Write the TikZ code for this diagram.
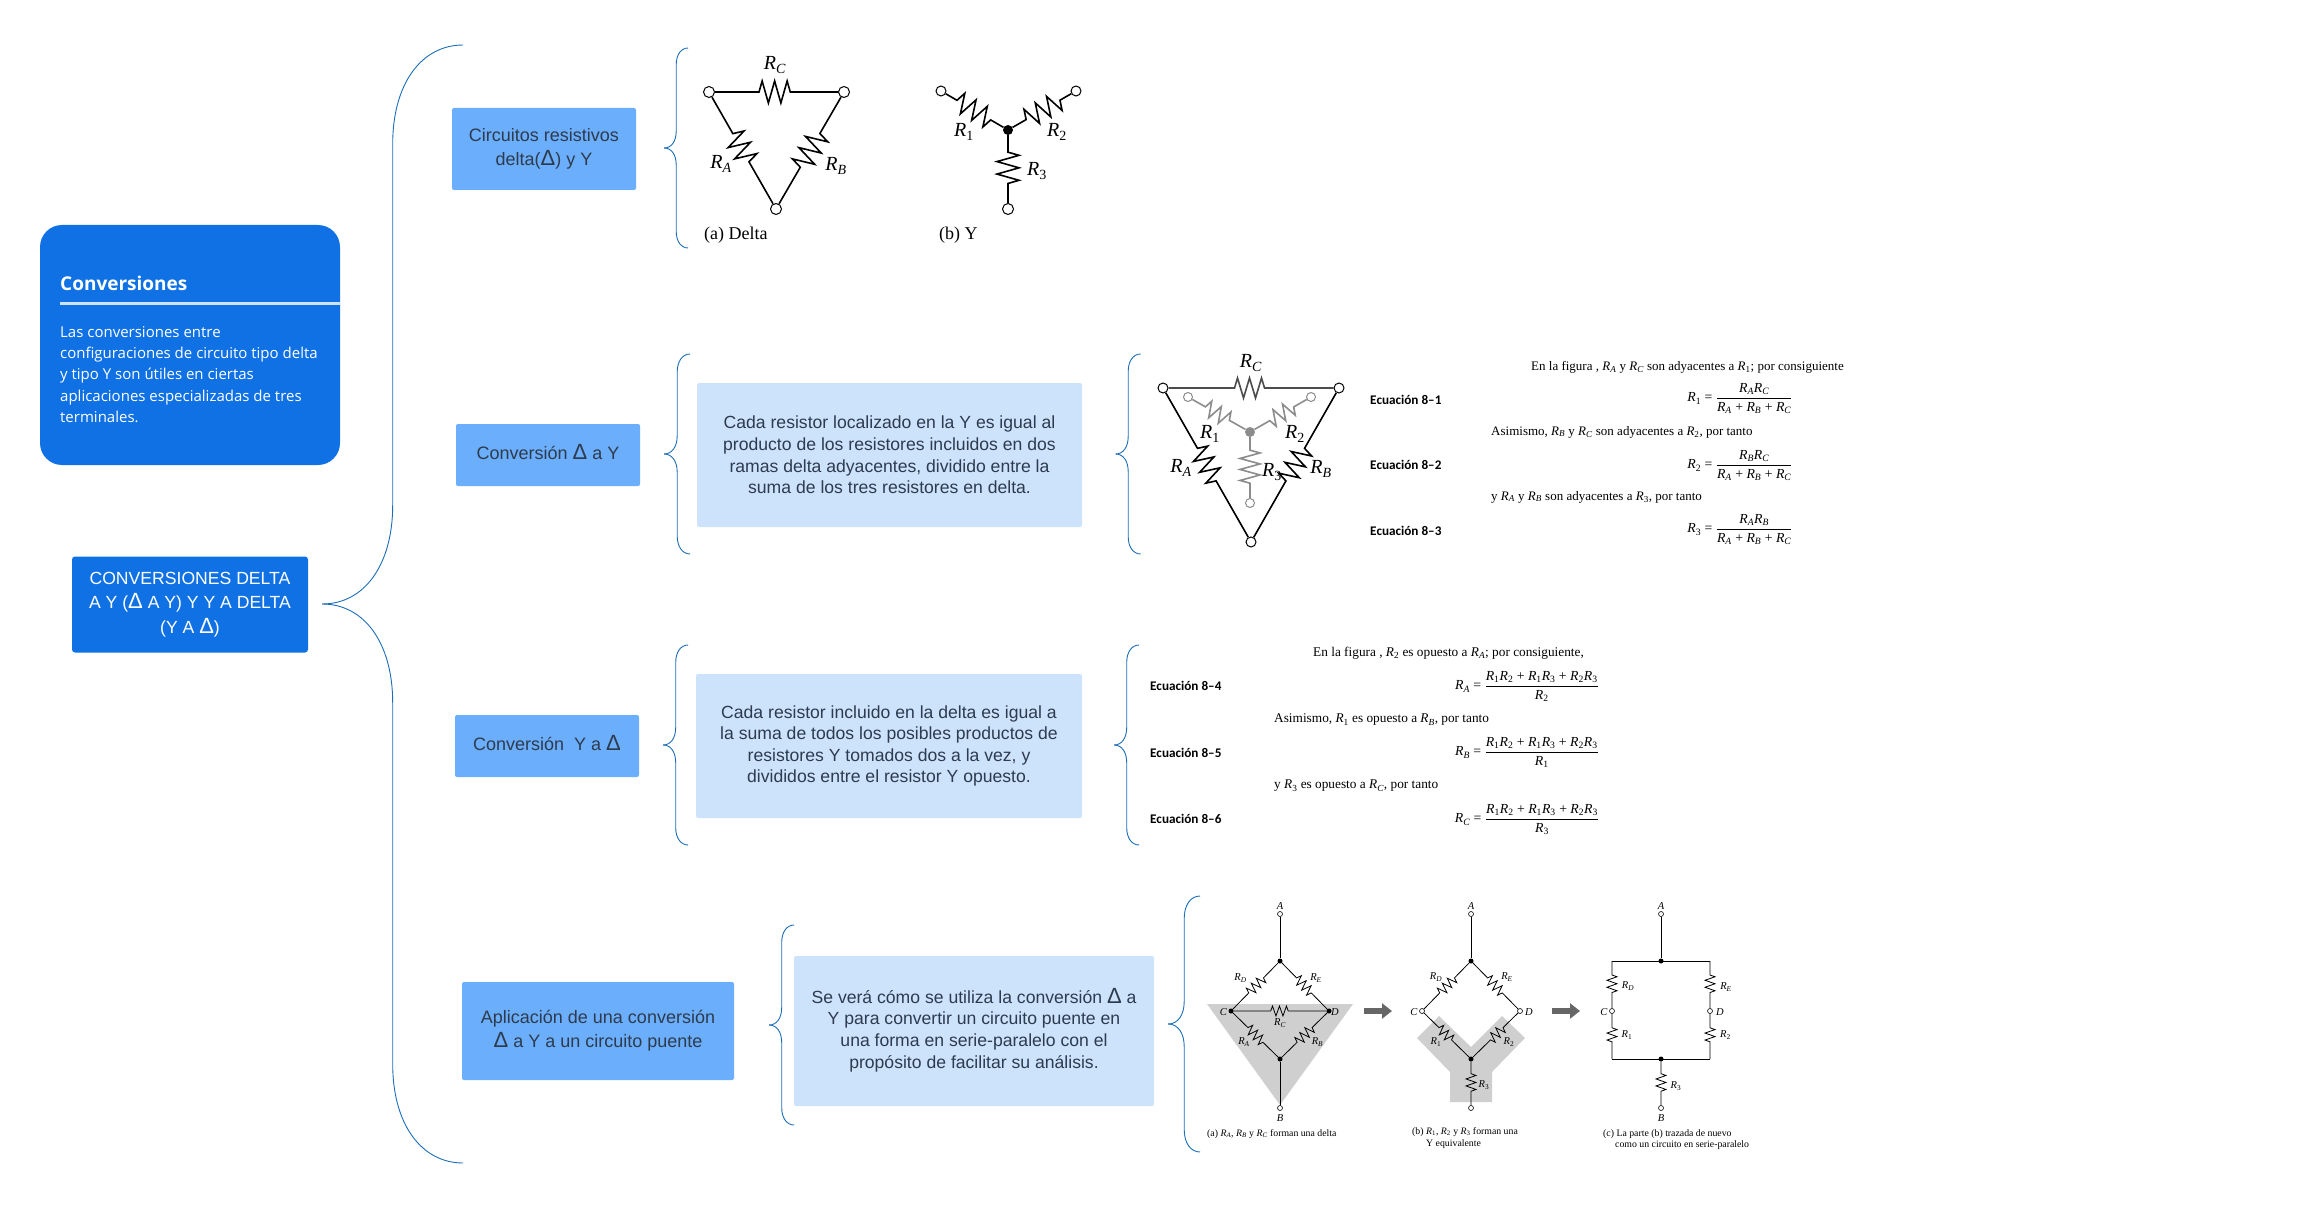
\documentclass[tikz,border=0pt]{standalone}
\usepackage{fontspec}
\setmainfont{Liberation Serif}
\setsansfont{Liberation Sans}
\newfontfamily\cardfont{Open Sans}
\newfontfamily\ecfont{Carlito}
\usetikzlibrary{arrows.meta,decorations.pathmorphing}
\definecolor{deepblue}{HTML}{1071E5}
\definecolor{midblue}{HTML}{6BAEFB}
\definecolor{paleblue}{HTML}{CDE3FC}
\definecolor{inkblue}{HTML}{2E3B4E}
\definecolor{braceblue}{HTML}{1C6DB8}
\definecolor{bridgegray}{HTML}{CFCFCF}
\newcommand{\dlt}{\smash{\fontsize{22}{0}\selectfont Δ}}
\newcommand{\Rl}[1]{\textit{R\textsubscript{#1}}}
\newcommand{\Rn}[1]{\textit{R}\textsubscript{#1}}
\newcommand{\fr}[2]{$\displaystyle\frac{\mbox{\rule[-2pt]{0pt}{11pt}#1}}{\mbox{\rule[-3pt]{0pt}{12pt}#2}}$}
\newcommand{\llave}[5]{
  \foreach \s in {-1,1}
    \draw [bracket] (#1.east) ++(#2,#3)
      .. controls +({.6*#5},0) and +(0,{-\s*.84*#5}) .. ++({#5},{\s*1.4*#5})
      -- ++(0,{\s*(#4-2.8*#5)})
      .. controls +(0,{\s*.84*#5}) and +({-.6*#5},0) .. ++({#5},{\s*1.4*#5});
}
\tikzset{
  every node/.style={font=\sffamily},
  bracket/.style={draw=braceblue,line width=.9pt},
  rootbox/.style={fill=deepblue,text=white,rounded corners=3pt,align=center,minimum width=236pt,minimum height=96pt,inner sep=0pt,font=\sffamily\fontsize{17.6}{24.5}\selectfont},
  midbox/.style={fill=midblue,text=inkblue,rounded corners=2pt,align=center,inner sep=0pt,font=\sffamily\fontsize{18}{24}\selectfont},
  palebox/.style={fill=paleblue,text=inkblue,rounded corners=2pt,align=center,inner sep=0pt,font=\sffamily\fontsize{17.6}{21.6}\selectfont},
  term/.style={circle,draw,fill=white,line width=1pt,inner sep=0pt,minimum size=#1},
  bterm/.style={term=5pt,line width=.6pt},
  dotn/.style={circle,fill=black,inner sep=0pt,minimum size=#1},
  res/.style n args={3}{decorate,decoration={zigzag,pre=lineto,pre length=#1,post=lineto,post length=#1,amplitude=#2,segment length=#3}},
  wire/.style={line width=1.6pt},
  thinwire/.style={line width=.8pt},
  biglab/.style={inner sep=0pt,font=\rmfamily\fontsize{20}{20}\selectfont},
  eqtext/.style={inner sep=0pt,anchor=west,font=\rmfamily\fontsize{13}{14}\selectfont},
  eqtextb/.style={eqtext,font=\rmfamily\fontsize{13.3}{14}\selectfont},
  eqfrac/.style={inner sep=0pt,font=\rmfamily\fontsize{13.8}{14}\selectfont},
  ecname/.style={inner sep=0pt,anchor=west,font=\ecfont\bfseries\fontsize{13.2}{14}\selectfont},
  smalllab/.style={inner sep=0pt,font=\rmfamily\fontsize{10.5}{11}\selectfont},
  caption/.style={inner sep=0pt,anchor=west,font=\rmfamily\fontsize{9.8}{11}\selectfont},
  bigarrow/.style={draw=black!60,line width=6pt,-{Triangle[length=10pt,width=15pt]}}
}
\begin{document}
\begin{tikzpicture}[x=1pt,y=-1pt]
  \useasboundingbox (0,0) rectangle (2318,1206);

  \node [fill=deepblue,rounded corners=22pt,minimum width=300pt,minimum height=240pt,inner sep=0pt] (card) at (190,345) {};
  \node [anchor=west,inner sep=0pt,text=white,font=\cardfont\bfseries\fontsize{19}{22}\selectfont] (cardtitle) at (60,283) {Conversiones};
  \coordinate (ruleA) at (60,304);
  \coordinate (ruleB) at (340,304);
  \draw [draw=paleblue,line width=3pt] (ruleA) -- (ruleB);
  \node [anchor=north west,inner sep=0pt,text=white,align=left,font=\cardfont\fontsize{15}{21.3}\selectfont] (cardtext) at (60,326)
  {Las conversiones entre\\configuraciones de circuito tipo delta\\y tipo Y son útiles en ciertas\\aplicaciones especializadas de tres\\terminales.};

  \node [rootbox] (root) at (190,604.5) {CONVERSIONES DELTA\\A Y (\dlt\ A Y) Y Y A DELTA\\(Y A \dlt)};

  \node [midbox,minimum width=184pt,minimum height=82pt] (resistivos) at (544,149) {Circuitos resistivos\\delta(\dlt) y Y};
  \node [midbox,text depth=4pt,minimum width=184pt,minimum height=62pt] (deltaY) at (548,455) {Conversión \dlt\ a Y};
  \node [midbox,text depth=4pt,minimum width=184pt,minimum height=62pt] (Ydelta) at (547,746) {Conversión\ \ Y a \dlt};
  \node [midbox,minimum width=272pt,minimum height=98pt] (aplic) at (598,1031) {Aplicación de una conversión\\\dlt\ a Y a un circuito puente};

  \node [palebox,minimum width=385pt,minimum height=144pt] (textDY) at (889.5,455) {Cada resistor localizado en la Y es igual al\\producto de los resistores incluidos en dos\\ramas delta adyacentes, dividido entre la\\suma de los tres resistores en delta.};
  \node [palebox,minimum width=386pt,minimum height=144pt] (textYD) at (889,746) {Cada resistor incluido en la delta es igual a\\la suma de todos los posibles productos de\\resistores Y tomados dos a la vez, y\\divididos entre el resistor Y opuesto.};
  \node [palebox,minimum width=360pt,minimum height=150pt] (textAp) at (974,1031) {Se verá cómo se utiliza la conversión \dlt\ a\\Y para convertir un circuito puente en\\una forma en serie-paralelo con el\\propósito de facilitar su análisis.};

  \llave{root}{14}{-.5}{559}{70.5}
  \llave{resistivos}{28}{-1}{100}{12}
  \llave{deltaY}{24}{-1}{100}{13}
  \llave{Ydelta}{24}{-1}{100}{12.5}
  \llave{aplic}{35}{-6}{100}{12.5}
  \llave{textDY}{33.5}{-1}{100}{12.5}
  \llave{textYD}{32}{-1}{100}{12.5}
  \llave{textAp}{14}{-7}{128}{16}

  % delta y estrella
  \node [term=11pt] (dL) at (709,92) {};
  \node [term=11pt] (dR) at (844,92) {};
  \node [term=11pt] (dB) at (776,209) {};
  \draw [wire,res={44}{11}{12.5}] (dL) -- (dR);
  \draw [wire,res={42}{11}{13}] (dL) -- (dB);
  \draw [wire,res={42}{11}{13}] (dR) -- (dB);
  \node [biglab] (labC) at (775,65) {\Rl{C}};
  \node [biglab] (labA) at (721,164) {\Rl{A}};
  \node [biglab] (labB) at (836,166) {\Rl{B}};
  \node [anchor=west,inner sep=0pt,font=\rmfamily\fontsize{18}{18}\selectfont] (capA) at (704,235.5) {(a) Delta};

  \node [dotn=10pt] (yC) at (1008,130) {};
  \node [term=10pt] (y1) at (941,91) {};
  \node [term=10pt] (y2) at (1076,91) {};
  \node [term=11pt] (y3) at (1008,209) {};
  \draw [wire,res={13}{10}{13}] (y1) -- (yC);
  \draw [wire,res={13}{10}{13}] (y2) -- (yC);
  \draw [wire,res={17}{11}{12.5}] (yC) -- (y3);
  \node [biglab] (lab1) at (964,132) {\Rn{1}};
  \node [biglab] (lab2) at (1057,132) {\Rn{2}};
  \node [biglab] (lab3) at (1037,171) {\Rn{3}};
  \node [anchor=west,inner sep=0pt,font=\rmfamily\fontsize{18}{18}\selectfont] (capB) at (939,235.5) {(b) Y};

  % delta con la Y dentro
  \node [term=10pt] (eL) at (1163,388) {};
  \node [term=10pt] (eR) at (1339,388) {};
  \node [term=10pt] (eB) at (1251,542) {};
  \draw [wire,draw=black!70,res={66}{10}{12}] (eL) -- (eR);
  \draw [wire,res={64}{10}{12.5}] (eL) -- (eB);
  \draw [wire,res={64}{10}{12.5}] (eR) -- (eB);
  \node [dotn=10pt,fill=black!45] (fC) at (1250,432) {};
  \node [term=9pt,draw=black!45] (f1) at (1188,397) {};
  \node [term=9pt,draw=black!45] (f2) at (1311,397) {};
  \node [term=9pt,draw=black!45] (f3) at (1250,503) {};
  \draw [wire,draw=black!45,res={15}{8}{11}] (f1) -- (fC);
  \draw [wire,draw=black!45,res={15}{8}{11}] (f2) -- (fC);
  \draw [wire,draw=black!45,res={13}{10}{11}] (fC) -- (f3);
  \node [biglab] (labeC) at (1251,363) {\Rl{C}};
  \node [biglab] (labeA) at (1181,468) {\Rl{A}};
  \node [biglab] (labeB) at (1321,469) {\Rl{B}};
  \node [biglab] (labf1) at (1210,434) {\Rn{1}};
  \node [biglab] (labf2) at (1295,434) {\Rn{2}};
  \node [biglab] (labf3) at (1272,472) {\Rn{3}};

  % ecuaciones
  \foreach \n/\y in {1/400,2/465,3/531}
    \node [ecname] (ec\n) at (1370,\y) {Ecuación 8–\n};
  \node [eqtext] (txt1) at (1531,367) {En la figura , \Rl{A} y \Rl{C} son adyacentes a \Rn{1}; por consiguiente};
  \node [eqfrac] (fr1) at (1740,399) {\Rn{1} = \fr{\Rl{A}\Rl{C}}{\Rl{A} + \Rl{B} + \Rl{C}}};
  \node [eqtext] (txt2) at (1491,432) {Asimismo, \Rl{B} y \Rl{C} son adyacentes a \Rn{2}, por tanto};
  \node [eqfrac] (fr2) at (1740,466) {\Rn{2} = \fr{\Rl{B}\Rl{C}}{\Rl{A} + \Rl{B} + \Rl{C}}};
  \node [eqtext] (txt3) at (1491,497) {y \Rl{A} y \Rl{B} son adyacentes a \Rn{3}, por tanto};
  \node [eqfrac] (fr3) at (1740,530) {\Rn{3} = \fr{\Rl{A}\Rl{B}}{\Rl{A} + \Rl{B} + \Rl{C}}};

  \foreach \n/\y in {4/686,5/753,6/819}
    \node [ecname] (ec\n) at (1150,\y) {Ecuación 8–\n};
  \node [eqtextb] (txt4) at (1313,653) {En la figura , \Rn{2} es opuesto a \Rl{A}; por consiguiente,};
  \node [eqfrac] (fr4) at (1527,687) {\Rl{A} = \fr{\Rn{1}\Rn{2} + \Rn{1}\Rn{3} + \Rn{2}\Rn{3}}{\Rn{2}}};
  \node [eqtextb] (txt5) at (1274,720) {Asimismo, \Rn{1} es opuesto a \Rl{B}, por tanto};
  \node [eqfrac] (fr5) at (1527,753) {\Rl{B} = \fr{\Rn{1}\Rn{2} + \Rn{1}\Rn{3} + \Rn{2}\Rn{3}}{\Rn{1}}};
  \node [eqtextb] (txt6) at (1274,786) {y \Rn{3} es opuesto a \Rl{C}, por tanto};
  \node [eqfrac] (fr6) at (1527,820) {\Rl{C} = \fr{\Rn{1}\Rn{2} + \Rn{1}\Rn{3} + \Rn{2}\Rn{3}}{\Rn{3}}};

  % puente (a)
  \fill [bridgegray] (1207,1004) -- (1353,1004) -- (1280,1105) -- cycle;
  \node [bterm] (aA) at (1280,914) {};
  \node [dotn=5pt] (aT) at (1280,961) {};
  \node [dotn=5pt] (aC) at (1231,1011) {};
  \node [dotn=5pt] (aD) at (1329,1011) {};
  \node [dotn=5pt] (aU) at (1280,1059) {};
  \node [bterm] (aB) at (1280,1108) {};
  \draw [thinwire] (aA) -- (aT);
  \draw [thinwire] (aU) -- (aB);
  \foreach \p/\q in {aT/aC,aT/aD,aC/aU,aD/aU}
    \draw [thinwire,res={21}{5}{7}] (\p) -- (\q);
  \draw [thinwire,res={37}{5}{7}] (aC) -- (aD);
  \foreach \t/\x/\y in {{\textit{A}}/1280/906,{\textit{B}}/1280/1118,{\textit{C}}/1223.5/1012,{\textit{D}}/1335/1012,{\Rl{D}}/1240.5/978,{\Rl{E}}/1316/978,{\Rl{C}}/1280/1023,{\Rl{A}}/1244/1042,{\Rl{B}}/1317.5/1042}
    \node [smalllab] at (\x,\y) {\t};
  \node [caption] (capa) at (1207,1134) {(a) \Rl{A}, \Rl{B} y \Rl{C} forman una delta};

  \coordinate (arrA) at (1364,1011);
  \coordinate (arrB) at (1392,1011);
  \draw [bigarrow] (arrA) -- (arrB);

  % puente (b)
  \fill [bridgegray] (1439,1016) -- (1471,1047) -- (1502,1016) -- (1525,1038) -- (1492,1072) -- (1492,1102) -- (1450,1102) -- (1450,1072) -- (1417,1038) -- cycle;
  \node [bterm] (bA) at (1471,914) {};
  \node [dotn=5pt] (bT) at (1471,961) {};
  \node [bterm] (bC) at (1422,1011) {};
  \node [bterm] (bD) at (1520,1011) {};
  \node [dotn=5pt] (bU) at (1471,1059) {};
  \node [bterm] (bB) at (1471,1108) {};
  \draw [thinwire] (bA) -- (bT);
  \foreach \p/\q in {bT/bC,bT/bD,bC/bU,bD/bU}
    \draw [thinwire,res={21}{5}{7}] (\p) -- (\q);
  \draw [thinwire,res={12}{5}{7}] (bU) -- (bB);
  \foreach \t/\x/\y in {{\textit{A}}/1471/906,{\textit{C}}/1414/1012,{\textit{D}}/1529/1012,{\Rl{D}}/1436/977,{\Rl{E}}/1507/977,{\Rn{1}}/1436/1042,{\Rn{2}}/1509/1042,{\Rn{3}}/1484/1085}
    \node [smalllab] at (\x,\y) {\t};
  \node [caption] (capb1) at (1412,1132) {(b) \Rn{1}, \Rn{2} y \Rn{3} forman una};
  \node [caption] (capb2) at (1426,1144) {Y equivalente};

  \coordinate (arrC) at (1552,1011);
  \coordinate (arrD) at (1580,1011);
  \draw [bigarrow] (arrC) -- (arrD);

  % puente (c)
  \node [bterm] (cA) at (1661,914) {};
  \node [dotn=5pt] (cT) at (1661,961) {};
  \coordinate (cTL) at (1612,961);
  \coordinate (cTR) at (1710,961);
  \node [bterm] (cC) at (1612,1011) {};
  \node [bterm] (cD) at (1710,1011) {};
  \coordinate (cUL) at (1612,1059);
  \coordinate (cUR) at (1710,1059);
  \node [dotn=5pt] (cU) at (1661,1059) {};
  \node [bterm] (cB) at (1661,1108) {};
  \draw [thinwire] (cA) -- (cT);
  \draw [thinwire] (cTL) -- (cTR);
  \draw [thinwire] (cUL) -- (cUR);
  \foreach \p/\q in {cTL/cC,cC/cUL,cTR/cD,cD/cUR}
    \draw [thinwire,res={14}{5}{7}] (\p) -- (\q);
  \draw [thinwire,res={12}{5}{7}] (cU) -- (cB);
  \foreach \t/\x/\y in {{\textit{A}}/1661/906,{\textit{B}}/1661/1118,{\textit{C}}/1604/1012,{\textit{D}}/1720/1012,{\Rl{D}}/1628/986,{\Rl{E}}/1726/987,{\Rn{1}}/1627/1035,{\Rn{2}}/1725.5/1035,{\Rn{3}}/1676/1086}
    \node [smalllab] at (\x,\y) {\t};
  \node [caption] (capc1) at (1603,1134) {(c) La parte (b) trazada de nuevo};
  \node [caption] (capc2) at (1615,1145) {como un circuito en serie-paralelo};
\end{tikzpicture}
\end{document}
